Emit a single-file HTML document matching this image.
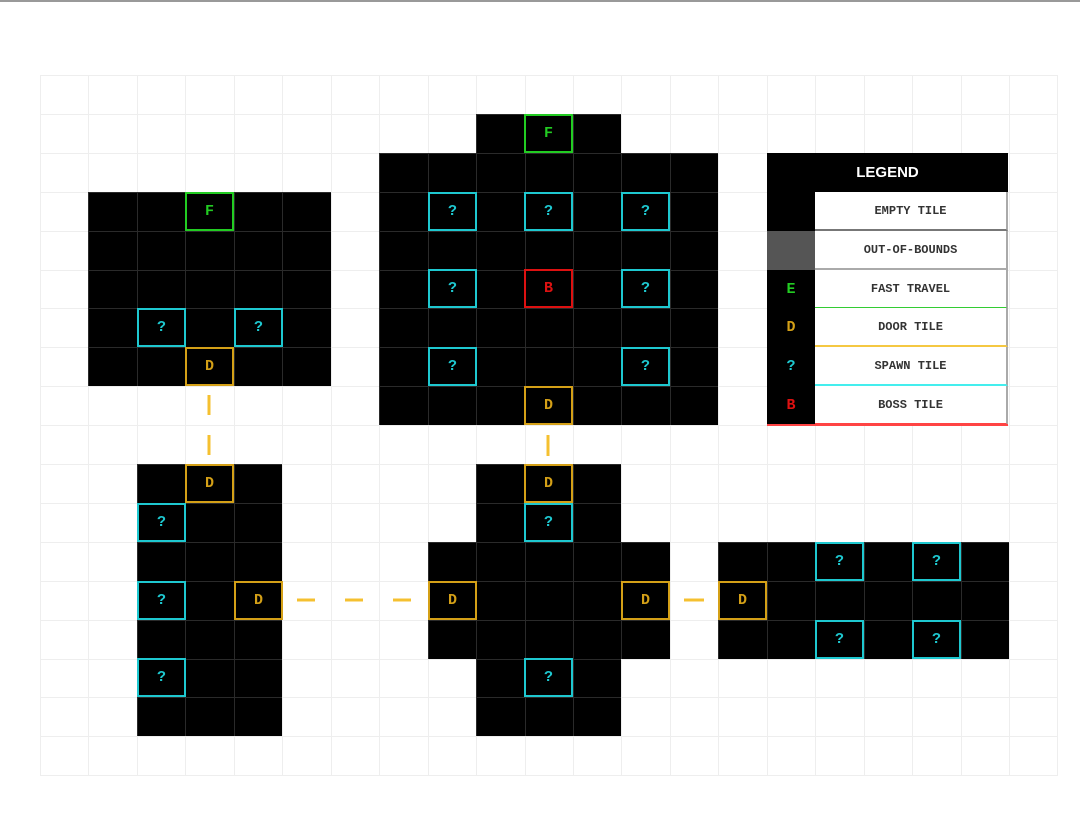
<!DOCTYPE html>
<html><head><meta charset="utf-8"><style>
body{margin:0;width:1080px;height:836px;background:#fff;position:relative;overflow:hidden;font-family:"Liberation Mono",monospace}
.c{position:absolute;box-sizing:border-box}
.t{position:absolute;box-sizing:border-box;border:2px solid;display:flex;align-items:center;justify-content:center;font-weight:bold;font-size:15px;font-family:"Liberation Mono",monospace}
.F{border-color:#22cc22;color:#22cc22}.D{border-color:#d4a017;color:#d4a017}.Q{border-color:#1ec8d0;color:#1ec8d0}.B{border-color:#dd1111;color:#dd1111}
.lg{position:absolute;left:815px;width:193px;height:39px;box-sizing:border-box;background:#fff;border-right:2px solid #aaa;display:flex;align-items:center;justify-content:center;font-size:12px;font-weight:bold;color:#333}
.ll{position:absolute;left:767px;width:48px;height:39px;background:#000;display:flex;align-items:center;justify-content:center;font-weight:bold;font-size:15px}
</style></head><body>
<div style="position:absolute;left:0;top:0;width:1080px;height:2px;background:#999"></div>
<div id="g"></div>
<div class="t F" style="left:185px;top:192px;width:49px;height:39px">F</div>
<div class="t Q" style="left:137px;top:308px;width:49px;height:39px">?</div>
<div class="t Q" style="left:234px;top:308px;width:49px;height:39px">?</div>
<div class="t D" style="left:185px;top:347px;width:49px;height:39px">D</div>
<div class="t F" style="left:524px;top:114px;width:49px;height:39px">F</div>
<div class="t Q" style="left:428px;top:192px;width:49px;height:39px">?</div>
<div class="t Q" style="left:524px;top:192px;width:49px;height:39px">?</div>
<div class="t Q" style="left:621px;top:192px;width:49px;height:39px">?</div>
<div class="t Q" style="left:428px;top:269px;width:49px;height:39px">?</div>
<div class="t B" style="left:524px;top:269px;width:49px;height:39px">B</div>
<div class="t Q" style="left:621px;top:269px;width:49px;height:39px">?</div>
<div class="t Q" style="left:428px;top:347px;width:49px;height:39px">?</div>
<div class="t Q" style="left:621px;top:347px;width:49px;height:39px">?</div>
<div class="t D" style="left:524px;top:386px;width:49px;height:39px">D</div>
<div class="t D" style="left:185px;top:464px;width:49px;height:39px">D</div>
<div class="t Q" style="left:137px;top:503px;width:49px;height:39px">?</div>
<div class="t Q" style="left:137px;top:581px;width:49px;height:39px">?</div>
<div class="t D" style="left:234px;top:581px;width:49px;height:39px">D</div>
<div class="t Q" style="left:137px;top:658px;width:49px;height:39px">?</div>
<div class="t D" style="left:524px;top:464px;width:49px;height:39px">D</div>
<div class="t Q" style="left:524px;top:503px;width:49px;height:39px">?</div>
<div class="t D" style="left:428px;top:581px;width:49px;height:39px">D</div>
<div class="t D" style="left:621px;top:581px;width:49px;height:39px">D</div>
<div class="t Q" style="left:524px;top:658px;width:49px;height:39px">?</div>
<div class="t D" style="left:718px;top:581px;width:49px;height:39px">D</div>
<div class="t Q" style="left:815px;top:542px;width:49px;height:39px">?</div>
<div class="t Q" style="left:912px;top:542px;width:49px;height:39px">?</div>
<div class="t Q" style="left:815px;top:620px;width:49px;height:39px">?</div>
<div class="t Q" style="left:912px;top:620px;width:49px;height:39px">?</div>
<svg style="position:absolute;left:0;top:0" width="1080" height="836">
<g stroke="#f5c030" stroke-width="3" fill="none">
<line x1="209" y1="395" x2="209" y2="458" stroke-dasharray="20,20"/>
<line x1="548" y1="435" x2="548" y2="456"/>
<line x1="297" y1="600" x2="412" y2="600" stroke-dasharray="18,30"/>
<line x1="684" y1="600" x2="704" y2="600"/>
</g></svg>
<div style="position:absolute;left:767px;top:153px;width:241px;height:39px;background:#000;color:#fff;font-family:'Liberation Sans',sans-serif;font-weight:bold;font-size:15px;display:flex;align-items:center;justify-content:center">LEGEND</div>
<div class="ll" style="top:192px"></div><div class="lg" style="top:192px;border-bottom:2px solid #777">EMPTY TILE</div>
<div class="ll" style="top:231px;background:#555"></div><div class="lg" style="top:231px;border-bottom:2px solid #aaa">OUT-OF-BOUNDS</div>
<div class="ll" style="top:270px;color:#22cc22">E</div><div class="lg" style="top:270px;border-bottom:2px solid #3c3">FAST TRAVEL</div>
<div class="ll" style="top:308px;color:#d4a017">D</div><div class="lg" style="top:308px;border-bottom:2px solid #f5c842">DOOR TILE</div>
<div class="ll" style="top:347px;color:#1ec8d0">?</div><div class="lg" style="top:347px;border-bottom:2px solid #4ee">SPAWN TILE</div>
<div class="ll" style="top:386px;color:#dd1111">B</div><div class="lg" style="top:386px;border-bottom:2px solid #f44">BOSS TILE</div>
<div style="position:absolute;left:767px;top:424px;width:241px;height:2px;background:#f44"></div>
<script>
var g=document.getElementById('g'),h='';
function X(c){return Math.round(40+48.45*c)}function Y(r){return Math.round(75+38.9*r)}
function cell(c,r,bg,bd){h+='<div class="c" style="left:'+X(c)+'px;top:'+Y(r)+'px;width:'+(X(c+1)-X(c)+1)+'px;height:'+(Y(r+1)-Y(r)+1)+'px;background:'+bg+';border:1px solid '+bd+'"></div>';}
var blk={};function R(c1,c2,r1,r2){for(var c=c1;c<=c2;c++)for(var r=r1;r<=r2;r++)blk[c+','+r]=1;}
R(1,5,3,7);R(7,13,2,8);R(9,11,1,1);R(2,4,10,16);R(9,11,10,16);R(8,12,12,14);R(14,19,12,14);
for(var c=0;c<21;c++)for(var r=0;r<18;r++){if(blk[c+','+r])cell(c,r,'#000','#2a2a2a');else cell(c,r,'#fff','#eee');}
g.innerHTML=h;
</script>
</body></html>
